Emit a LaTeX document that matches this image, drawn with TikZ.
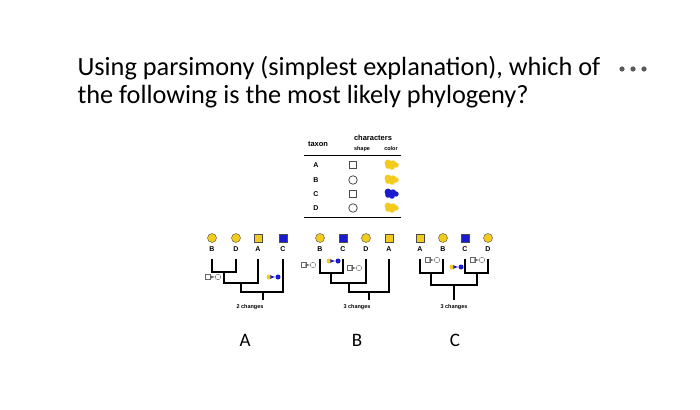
\documentclass[tikz,border=0pt]{standalone}
\usepackage{fontspec}
\setmainfont{Carlito}
\newfontfamily\arl{Liberation Sans}
\definecolor{yel}{HTML}{F2CB1D}
\definecolor{blu}{HTML}{1A1AD0}
\begin{document}
\begin{tikzpicture}[x=1pt,y=-1pt,
 br/.style={line width=1.4pt,line cap=rect},
 lab/.style={font=\arl\bfseries\fontsize{7}{8}\selectfont},
 sm/.style={font=\arl\bfseries\fontsize{5.5}{6}\selectfont},
 yc/.style={circle,draw=black!70,fill=yel,minimum size=9pt,inner sep=0},
 ys/.style={rectangle,draw=black!70,fill=yel,minimum size=8.5pt,inner sep=0},
 bs/.style={rectangle,draw=black!70,fill=blu,minimum size=8.5pt,inner sep=0},
 os/.style={rectangle,draw=black!70,thick,minimum size=7.5pt,inner sep=0},
 oc/.style={circle,draw=black!70,thick,minimum size=8.5pt,inner sep=0},
 ms/.style={rectangle,draw=black!60,minimum size=5pt,inner sep=0,fill=white},
 mc/.style={circle,draw=black!60,minimum size=5.5pt,inner sep=0,fill=white},
 my/.style={circle,fill=yel,minimum size=5pt,inner sep=0},
 mb/.style={circle,fill=blu,minimum size=5pt,inner sep=0},
 ar/.style={-latex,blu,line width=0.7pt},
 ag/.style={-latex,black!60,line width=0.6pt}]
\fill[white] (0,0) rectangle (700,409);
\node[anchor=west,font=\fontsize{26.3}{30}\selectfont] (t1) at (74,68) {Using parsimony (simplest explanation), which of};
\node[anchor=west,font=\fontsize{26.3}{30}\selectfont] (t2) at (74,97) {the following is the most likely phylogeny?};
\foreach \x in {622,633,644} \fill[black!65] (\x,69) circle (2.6pt);
% table
\node[lab,font=\arl\bfseries\fontsize{7.5}{8}\selectfont] (tx) at (318,144) {taxon};
\node[lab,font=\arl\bfseries\fontsize{7.5}{8}\selectfont] (ch) at (373,138) {characters};
\node[sm] (sh) at (362,149) {shape};
\node[sm] (co) at (391,149) {color};
\draw[line width=1pt] (304,155) -- (401,155);
\draw[line width=1pt] (304,217) -- (401,217);
\foreach \t/\y/\s/\c in {A/165/os/yel,B/180/oc/yel,C/194/os/blu,D/208/oc/yel}{
 \node[lab] (r\t) at (316,\y) {\t};
 \node[\s] (s\t) at (353,\y) {};
 \fill[\c] (388,\y-2) circle (3.4pt) (393,\y-1.5) circle (3.2pt) (396,\y) circle (2.7pt) (392,\y+2) circle (2.8pt) (388,\y+1) circle (2.8pt);
}
% tree A
\foreach \n/\x/\s in {B/212/yc,D/236/yc,A/258/ys,C/283/bs}{
 \node[\s] (aS\n) at (\x,238) {};
 \node[lab] (aL\n) at (\x,249) {\n};}
\draw[br] (212,260) -- (212,272) -- (236,272) -- (236,260);
\draw[br] (224,272) -- (224,283) -- (258,283) -- (258,260);
\draw[br] (241,283) -- (241,292) -- (283,292) -- (283,260);
\draw[br] (263,292) -- (263,299);
\node[ms] (am1) at (208,277) {}; \node[mc] (am2) at (218,277) {};
\draw[ag] (am1) -- (am2);
\node[my] (am3) at (269,277) {}; \node[mb] (am4) at (278,277) {};
\draw[ar] (am3) -- (am4);
\node[sm] (ac) at (250,307) {2 changes};
\node[font=\fontsize{19}{21}\selectfont] (aA) at (245,340) {A};
% tree B
\foreach \n/\x/\s in {B/320/yc,C/343/bs,D/366/yc,A/389/ys}{
 \node[\s] (bS\n) at (\x,238) {};
 \node[lab] (bL\n) at (\x,249) {\n};}
\draw[br] (320,260) -- (320,273) -- (343,273) -- (343,260);
\draw[br] (331,273) -- (331,283) -- (366,283) -- (366,260);
\draw[br] (349,283) -- (349,292) -- (389,292) -- (389,260);
\draw[br] (369,292) -- (369,299);
\node[ms] (bm1) at (304,265) {}; \node[mc] (bm2) at (313,265) {};
\draw[ag] (bm1) -- (bm2);
\node[my] (bm3) at (329,261) {}; \node[mb] (bm4) at (338,261) {};
\draw[ar] (bm3) -- (bm4);
\node[ms] (bm5) at (350,268) {}; \node[mc] (bm6) at (359,268) {};
\draw[ag] (bm5) -- (bm6);
\node[sm] (bc) at (357,307) {3 changes};
\node[font=\fontsize{19}{21}\selectfont] (bB) at (357,340) {B};
% tree C
\foreach \n/\x/\s in {A/420/ys,B/443/yc,C/465/bs,D/488/yc}{
 \node[\s] (cS\n) at (\x,238) {};
 \node[lab] (cL\n) at (\x,249) {\n};}
\draw[br] (420,260) -- (420,273) -- (443,273) -- (443,260);
\draw[br] (465,260) -- (465,273) -- (488,273) -- (488,260);
\draw[br] (431,273) -- (431,285) -- (477,285) -- (477,273);
\draw[br] (454,285) -- (454,299);
\node[ms] (cm1) at (428,260) {}; \node[mc] (cm2) at (437,260) {};
\draw[ag] (cm1) -- (cm2);
\node[my] (cm3) at (452,267) {}; \node[mb] (cm4) at (461,267) {};
\draw[ar] (cm3) -- (cm4);
\node[ms] (cm5) at (473,260) {}; \node[mc] (cm6) at (482,260) {};
\draw[ag] (cm5) -- (cm6);
\node[sm] (cc) at (454,307) {3 changes};
\node[font=\fontsize{19}{21}\selectfont] (cC) at (455,340) {C};
\end{tikzpicture}
\end{document}
